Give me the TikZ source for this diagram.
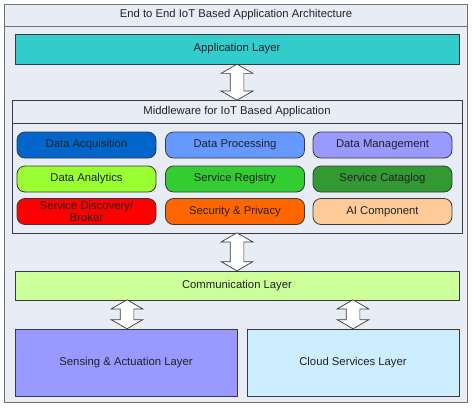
\documentclass[tikz,border=0pt]{standalone}
\usepackage{fontspec}
\setmainfont{Liberation Sans}
\usepackage{tikz}
\usetikzlibrary{shapes.arrows,calc}

\definecolor{framebg}{HTML}{E8EDF5}
\definecolor{framedraw}{HTML}{707070}
\definecolor{boxdraw}{HTML}{3A3A3A}
\definecolor{textcol}{HTML}{222222}
\definecolor{applayer}{HTML}{33CCCC}
\definecolor{acqcol}{HTML}{0066CC}
\definecolor{proccol}{HTML}{6699FF}
\definecolor{mgmtcol}{HTML}{9999FF}
\definecolor{analcol}{HTML}{99FF33}
\definecolor{regcol}{HTML}{33CC33}
\definecolor{catcol}{HTML}{339933}
\definecolor{disccol}{HTML}{FF0000}
\definecolor{seccol}{HTML}{FF6600}
\definecolor{aicol}{HTML}{FFCC99}
\definecolor{commcol}{HTML}{CCFF99}
\definecolor{senscol}{HTML}{9999FF}
\definecolor{cloudcol}{HTML}{CCEEFF}

\tikzset{
  every node/.style={font=\fontsize{11.3}{10.5}\selectfont, text=textcol},
  frame/.style={draw=framedraw, fill=framebg, line width=0.9pt},
  layer/.style={draw=boxdraw, line width=0.8pt, inner sep=0pt},
  pill/.style={draw=boxdraw, line width=0.8pt, rounded corners=8pt,
    minimum width=139pt, minimum height=26pt, inner sep=0pt, align=center},
  link/.style={double arrow, draw=boxdraw, fill=white, line width=0.7pt,
    inner xsep=0pt, inner ysep=6.5pt, double arrow head extend=9pt,
    double arrow tip angle=120, rotate=90},
}

\begin{document}
\begin{tikzpicture}[x=1pt,y=-1pt]
\fill[white] (0,0) rectangle (474,408);
\useasboundingbox (0,0) rectangle (474,408);

% outer frame
\draw[frame] (4,4) rectangle (467,402);
\draw[framedraw, line width=0.9pt] (4,26) -- (467,26);
\node (title) at (236,15) {End to End IoT Based Application Architecture};

\node[layer, fill=applayer, minimum width=444pt, minimum height=30pt] (app) at (237,49) {Application Layer};

% middleware
\draw[frame, draw=boxdraw, line width=0.8pt] (12,100) rectangle (462,233);
\draw[boxdraw, line width=0.8pt] (12,123) -- (462,123);
\node (mwtitle) at (237,111.5) {Middleware for IoT Based Application};
\coordinate (mwtop) at (237,100);
\coordinate (mwbot) at (237,233);

\node[pill, fill=acqcol]  (acq)  at (86.5,145)  {Data Acquisition};
\node[pill, fill=proccol] (proc) at (235,145)   {Data Processing};
\node[pill, fill=mgmtcol] (mgmt) at (382.5,145) {Data Management};
\node[pill, fill=analcol] (anal) at (86.5,179)  {Data Analytics};
\node[pill, fill=regcol]  (reg)  at (235,179)   {Service Registry};
\node[pill, fill=catcol]  (cat)  at (382.5,179) {Service Cataglog};
\node[pill, fill=disccol] (disc) at (86.5,211.5)  {Service Discovery/\\Broker};
\node[pill, fill=seccol]  (sec)  at (235,211.5)   {Security \& Privacy};
\node[pill, fill=aicol]   (ai)   at (382.5,211.5) {AI Component};

\node[layer, fill=commcol, minimum width=444pt, minimum height=29pt] (comm) at (237,285.5) {Communication Layer};

\node[layer, fill=senscol, minimum width=222pt, minimum height=67pt] (sens) at (126,362.5) {Sensing \& Actuation Layer};
\node[layer, fill=cloudcol, minimum width=212pt, minimum height=67pt] (cloud) at (353,362.5) {Cloud Services Layer};

% arrows between layers
\node[link, minimum height=36pt] (l1) at ($(app.south)!0.5!(mwtop)$) {};
\node[link, minimum height=38pt] (l2) at ($(mwbot)!0.5!(comm.north)$) {};
\coordinate (c1) at (127,300);
\coordinate (c2) at (353,300);
\node[link, minimum height=29pt] (l3) at ($(c1)!0.5!(sens.north -| c1)$) {};
\node[link, minimum height=29pt] (l4) at ($(c2)!0.5!(cloud.north)$) {};
\end{tikzpicture}
\end{document}
